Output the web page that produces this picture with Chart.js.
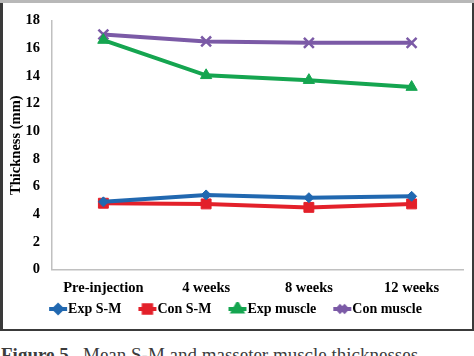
<!DOCTYPE html>
<html>
<head>
<meta charset="utf-8">
<script src="https://cdn.jsdelivr.net/npm/chart.js@4"></script>
<style>
  html, body { margin: 0; padding: 0; background: #fff; }
  #wrap { position: relative; width: 474px; height: 356px; overflow: hidden; background: #fff; }
  #topband { position: absolute; left: 0; top: 0; width: 474px; height: 3px; background: #b8b8b8; }
  #frame { position: absolute; left: 0; top: 0; width: 469px; height: 329px; border-left: 3px solid #3a3a3a; border-right: 2px solid #3a3a3a; border-bottom: 2px solid #3a3a3a; box-sizing: content-box; }
  #c { position: absolute; left: 0; top: 0; }
  #cap { position: absolute; left: 1px; top: 345px; font-family: "Liberation Serif", serif; font-size: 19px; line-height: 19px; color: #3c3c3c; white-space: nowrap; }
</style>
</head>
<body>
<div id="wrap">
  <div id="frame"></div>
  <div id="topband"></div>
  <canvas id="c" width="474" height="341"></canvas>
  <div id="cap"><b>Figure 5.</b>&nbsp; Mean S-M and masseter muscle thicknesses</div>
</div>
<script>
const categories = ["Pre-injection", "4 weeks", "8 weeks", "12 weeks"];
const expSM = [4.9, 5.4, 5.2, 5.3];
const conSM = [4.8, 4.75, 4.5, 4.75];
const expMuscle = [16.6, 14.05, 13.7, 13.2];
const conMuscle = [17.0, 16.5, 16.4, 16.4];
const yTicks = [0, 2, 4, 6, 8, 10, 12, 14, 16, 18];

const seriesNames = ["Exp S-M", "Con S-M", "Exp muscle", "Con muscle"];
const colors = ["#2168b0", "#e3202a", "#15a550", "#7b5aa6"];
const styles = ["rectRot", "rect", "triangle", "crossRot"];
const radii = [5, 7, 6.5, 7];

// legend icon: transparent gap on the left (acts as item spacing), then line + marker
const BOXW = 24, ICONW = 40;
function legendIcon(i) {
  const cv = document.createElement('canvas');
  cv.width = ICONW; cv.height = 14;
  const ctx = cv.getContext('2d');
  ctx.strokeStyle = colors[i]; ctx.fillStyle = colors[i];
  ctx.lineWidth = 4;
  const x0 = 20, x1 = 38;
  ctx.beginPath(); ctx.moveTo(x0, 7); ctx.lineTo(x1, 7); ctx.stroke();
  Chart.helpers.drawPoint(ctx, {pointStyle: styles[i], radius: radii[i] * 0.75, borderWidth: 2.5, rotation: 0}, (x0 + x1) / 2, 7);
  ctx.fill();
  return cv;
}

const dataArrays = [expSM, conSM, expMuscle, conMuscle];
const datasets = dataArrays.map((d, i) => ({
  label: seriesNames[i],
  data: d,
  borderColor: colors[i],
  backgroundColor: colors[i],
  borderWidth: 4,
  pointStyle: styles[i],
  pointRadius: radii[i],
  pointBorderWidth: styles[i] === 'crossRot' ? 2.5 : 1,
  pointBackgroundColor: colors[i],
  pointBorderColor: colors[i],
  tension: 0
}));

const font = { family: "'Liberation Serif', 'Times New Roman', serif", weight: 'bold', size: 14.5 };
const legendFont = { family: "'Liberation Serif', 'Times New Roman', serif", weight: 'bold', size: 14 };

const legendShift = {
  id: 'legendShift',
  afterLayout(chart) {
    const lg = chart.legend;
    if (!lg) return;
    lg.top -= 10; lg.bottom -= 10;
    lg.left -= 6; lg.right -= 6;
  }
};

new Chart(document.getElementById('c'), {
  type: 'line',
  data: { labels: categories, datasets },
  plugins: [legendShift],
  options: {
    responsive: false,
    animation: false,
    layout: { padding: { left: 8, right: 11, top: 19, bottom: 5 } },
    plugins: {
      tooltip: { enabled: false },
      legend: {
        position: 'bottom',
        labels: {
          usePointStyle: true,
          pointStyleWidth: BOXW,
          padding: 5,
          color: '#000',
          font: legendFont,
          generateLabels(chart) {
            return chart.data.datasets.map((ds, i) => ({
              text: ds.label,
              pointStyle: legendIcon(i),
              fillStyle: ds.borderColor,
              strokeStyle: ds.borderColor,
              lineWidth: 0,
              hidden: false,
              datasetIndex: i,
              fontColor: '#000'
            }));
          }
        }
      }
    },
    scales: {
      x: {
        offset: true,
        grid: { display: false, drawTicks: false },
        border: { display: true, color: '#c0c0c0', width: 1.5 },
        ticks: { color: '#000', font, padding: 10, maxRotation: 0 }
      },
      y: {
        min: 0, max: 18,
        afterBuildTicks(scale) { scale.ticks = yTicks.map(v => ({ value: v })); },
        afterFit(scale) { scale.width = 44; },
        grid: { display: false, drawTicks: false },
        border: { display: true, color: '#c0c0c0', width: 1.5 },
        ticks: { color: '#000', font, padding: 12 },
        title: { display: true, text: 'Thickness (mm)', color: '#000', font, padding: { top: 0, bottom: 0 } }
      }
    }
  }
});
</script>
</body>
</html>
